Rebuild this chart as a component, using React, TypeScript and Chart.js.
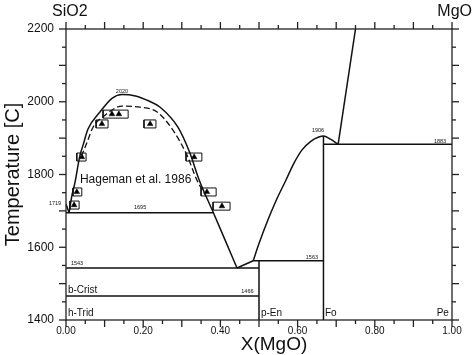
import React, { useEffect, useRef } from "react";
import { Chart, registerables } from "chart.js";
Chart.register(...registerables);

const FONT = "'Liberation Sans', Arial, Helvetica, sans-serif";

// axis ranges & tick labels
const xRange = [0, 1];
const tRange = [1400, 2200];
const xTickLabels = ["0.00", "0.20", "0.40", "0.60", "0.80", "1.00"];
const tTickLabels = ["1400", "1600", "1800", "2000", "2200"];

// liquidus: SiO2 melting to monotectic
const meltX = [0, 0.008];
const meltT = [1719, 1695];
// solid miscibility-gap dome + liquidus down to eutectic
const domeX = [0.008, 0.015, 0.023, 0.036, 0.044, 0.057, 0.088, 0.12, 0.145, 0.18, 0.215, 0.244, 0.29, 0.321, 0.345, 0.381, 0.41, 0.443];
const domeT = [1695, 1740, 1777, 1852, 1880, 1925, 1972, 2010, 2020, 2016, 2002, 1985, 1930, 1859, 1785, 1697, 1625, 1543];
// eutectic -> peritectic
const eutX = [0.443, 0.485];
const eutT = [1543, 1563];
// forsterite liquidus
const foLiqX = [0.485, 0.5, 0.523, 0.545, 0.57, 0.59, 0.611, 0.635, 0.655, 0.667, 0.685, 0.705];
const foLiqT = [1563, 1610, 1675, 1730, 1785, 1830, 1867, 1892, 1903, 1906, 1897, 1883];
// periclase liquidus
const peLiqX = [0.705, 0.75];
const peLiqT = [1883, 2200];
// dashed dome (model)
const dashX = [0.04, 0.054, 0.07, 0.101, 0.145, 0.192, 0.236, 0.277, 0.313, 0.339, 0.36];
const dashT = [1850, 1887, 1930, 1963, 1988, 1985, 1972, 1922, 1854, 1785, 1745];
// isotherms
const isoT = [1695, 1543, 1466, 1563, 1883];
const isoX0 = [0, 0, 0, 0.485, 0.667];
const isoX1 = [0.381, 0.5, 0.5, 0.667, 1.0];
// compounds (vertical lines)
const compX = [0.5, 0.667];
const compTop = [1563, 1906];
// Hageman et al. 1986 data
const triX = [0.021, 0.028, 0.041, 0.093, 0.119, 0.137, 0.218, 0.332, 0.365, 0.404];
const triT = [1716, 1752, 1848, 1939, 1966, 1966, 1939, 1848, 1752, 1713];
const boxX0 = [0.01, 0.018, 0.028, 0.078, 0.096, 0.202, 0.311, 0.35, 0.381];
const boxX1 = [0.034, 0.041, 0.052, 0.109, 0.161, 0.233, 0.352, 0.389, 0.425];
const boxT = [1716, 1752, 1848, 1939, 1966, 1939, 1848, 1752, 1713];
const boxHalf = 11;

// small temperature labels
const numText = ["2020", "1719", "1695", "1543", "1466", "1563", "1883", "1906"];
const numX = [0.145, -0.0285, 0.192, 0.0285, 0.47, 0.637, 0.969, 0.653];
const numT = [2029, 1720, 1708, 1555, 1478, 1573, 1892, 1922];
// phase labels
const phaseText = ["h-Trid", "b-Crist", "p-En", "Fo", "Pe"];
const phaseX = [0.005, 0.005, 0.505, 0.671, 0.992];
const phaseT = [1411, 1474, 1411, 1411, 1411];
const phaseAlign = ["left", "left", "left", "left", "right"];

const pts = (xs: number[], ts: number[]) => xs.map((v, i) => ({ x: v, y: ts[i] }));

const lineDs = (data: any[], extra: any = {}) => ({
  data,
  borderColor: "#111",
  borderWidth: 1.5,
  pointRadius: 0,
  fill: false,
  tension: 0,
  ...extra,
});

const framePlugin = {
  id: "frame",
  afterDatasetsDraw(chart: any) {
    const { ctx, chartArea: a, scales } = chart;
    const x = scales.x, y = scales.y;
    const seg = (x1: number, y1: number, x2: number, y2: number) => {
      ctx.beginPath(); ctx.moveTo(x1, y1); ctx.lineTo(x2, y2); ctx.stroke();
    };
    ctx.save();
    ctx.strokeStyle = "#222";
    ctx.lineWidth = 1.3;
    ctx.strokeRect(a.left, a.top, a.right - a.left, a.bottom - a.top);
    for (let i = 0; i <= 20; i++) {
      const px = x.getPixelForValue(i * 0.05);
      const len = i % 2 === 0 ? 7 : 4;
      seg(px, a.bottom, px, a.bottom + len);
      seg(px, a.top, px, a.top - len);
    }
    for (let i = 0; i <= 16; i++) {
      const py = y.getPixelForValue(1400 + i * 50);
      const len = i % 2 === 0 ? 7 : 4;
      seg(a.left, py, a.left - len, py);
      seg(a.right, py, a.right + len, py);
    }
    ctx.fillStyle = "#111";
    // small number labels
    ctx.font = `5.5px ${FONT}`;
    ctx.textAlign = "center";
    ctx.textBaseline = "middle";
    numText.forEach((t, i) => ctx.fillText(t, x.getPixelForValue(numX[i]), y.getPixelForValue(numT[i])));
    // phase labels
    ctx.font = `10px ${FONT}`;
    ctx.textBaseline = "alphabetic";
    phaseText.forEach((t, i) => {
      ctx.textAlign = phaseAlign[i];
      ctx.fillText(t, x.getPixelForValue(phaseX[i]), y.getPixelForValue(phaseT[i]));
    });
    // source label
    ctx.font = `12px ${FONT}`;
    ctx.textAlign = "left";
    ctx.fillText("Hageman et al. 1986", x.getPixelForValue(0.036), y.getPixelForValue(1777));
    // end members
    ctx.font = `16px ${FONT}`;
    ctx.textAlign = "left";
    ctx.fillText("SiO2", a.left - 14, 16);
    ctx.textAlign = "right";
    ctx.fillText("MgO", a.right + 20, 16);
    // axis titles
    ctx.font = `19px ${FONT}`;
    ctx.textAlign = "center";
    ctx.textBaseline = "middle";
    ctx.fillText("X(MgO)", 274, 345);
    ctx.font = `20px ${FONT}`;
    ctx.translate(13, (a.top + a.bottom) / 2);
    ctx.rotate(-Math.PI / 2);
    ctx.fillText("Temperature [C]", 0, 0);
    ctx.restore();
  },
};

export default function App() {
  const ref = useRef<HTMLCanvasElement>(null);
  useEffect(() => {
    document.body.style.margin = "0";
    const datasets: any[] = [
      lineDs(pts(meltX, meltT)),
      lineDs(pts(domeX, domeT), { cubicInterpolationMode: "monotone" }),
      lineDs(pts(eutX, eutT)),
      lineDs(pts(foLiqX, foLiqT), { cubicInterpolationMode: "monotone" }),
      lineDs(pts(peLiqX, peLiqT)),
      lineDs(pts(dashX, dashT), { cubicInterpolationMode: "monotone", borderDash: [6, 3], borderWidth: 1.3 }),
    ];
    isoT.forEach((t, i) => datasets.push(lineDs([{ x: isoX0[i], y: t }, { x: isoX1[i], y: t }])));
    compX.forEach((c, i) => datasets.push(lineDs([{ x: c, y: tRange[0] }, { x: c, y: compTop[i] }])));
    boxT.forEach((t, i) =>
      datasets.push(
        lineDs(
          [
            { x: boxX0[i], y: t - boxHalf },
            { x: boxX1[i], y: t - boxHalf },
            { x: boxX1[i], y: t + boxHalf },
            { x: boxX0[i], y: t + boxHalf },
            { x: boxX0[i], y: t - boxHalf },
          ],
          { borderWidth: 1 }
        )
      )
    );
    datasets.push({
      data: pts(triX, triT),
      showLine: false,
      pointStyle: "triangle",
      pointRadius: 3.3,
      backgroundColor: "#000",
      borderColor: "#000",
      borderWidth: 0.5,
    });
    const chart = new Chart(ref.current!, {
      type: "line",
      data: { datasets },
      options: {
        responsive: false,
        animation: false,
        layout: { padding: { left: 0, right: 22, top: 29, bottom: 0 } },
        plugins: { legend: { display: false }, tooltip: { enabled: false } },
        scales: {
          x: {
            type: "linear",
            min: xRange[0],
            max: xRange[1],
            afterFit: (s: any) => { s.height = 35; },
            afterBuildTicks: (s: any) => { s.ticks = xTickLabels.map((l) => ({ value: parseFloat(l) })); },
            ticks: {
              callback: (v: any) => Number(v).toFixed(2),
              font: { size: 10, family: FONT },
              color: "#111",
              padding: 5,
              maxRotation: 0,
              autoSkip: false,
            },
            grid: { display: false, drawTicks: false },
            border: { display: false },
          },
          y: {
            type: "linear",
            min: tRange[0],
            max: tRange[1],
            afterFit: (s: any) => { s.width = 66; },
            afterBuildTicks: (s: any) => { s.ticks = tTickLabels.map((l) => ({ value: parseFloat(l) })); },
            ticks: {
              callback: (v: any) => String(v),
              font: { size: 12, family: FONT },
              color: "#111",
              padding: 12,
              autoSkip: false,
            },
            grid: { display: false, drawTicks: false },
            border: { display: false },
          },
        },
      },
      plugins: [framePlugin],
    });
    return () => chart.destroy();
  }, []);
  return <canvas ref={ref} width={474} height={355} />;
}
